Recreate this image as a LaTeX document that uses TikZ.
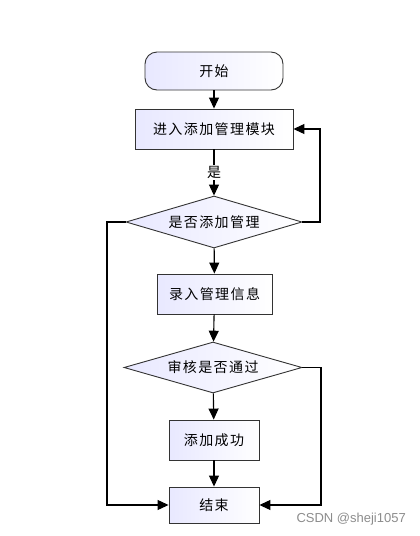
\documentclass[tikz,border=0pt]{standalone}
\usepackage{fontspec}
\newfontfamily\cjk[LetterSpace=10]{Noto Sans CJK SC}
\usetikzlibrary{shapes.geometric,arrows.meta}
\begin{document}
\begin{tikzpicture}[x=1pt,y=-1pt,
  txt/.style={font=\cjk\fontsize{14}{16}\selectfont},
  base/.style={txt,draw=black!80,line width=0.9pt,left color=blue!9,right color=white,inner sep=0pt},
  proc/.style={base,rectangle,minimum height=40pt},
  term/.style={base,rectangle,rounded corners=12pt,minimum width=138pt,minimum height=38pt},
  dec/.style={base,diamond,aspect=3.4},
  arr/.style={line width=1.1pt,-{Triangle[width=10pt,length=11pt]}},
  ln/.style={line width=1pt}]
\useasboundingbox (0,0) rectangle (420,536);
\node[term] (start) at (214,71) {开始};
\node[proc,minimum width=158pt] (enter) at (214,129) {进入添加管理模块};
\node[dec,minimum width=176pt,minimum height=52pt] (d1) at (214,222) {是否添加管理};
\node[proc,minimum width=115pt] (input) at (214.5,294) {录入管理信息};
\node[dec,minimum width=178pt,minimum height=51pt] (d2) at (213,367.5) {审核是否通过};
\node[proc,minimum width=90pt] (ok) at (214,440) {添加成功};
\node[proc,minimum width=90pt,minimum height=36pt] (end) at (214,505) {结束};
\coordinate (l1) at (107,222);
\coordinate (l2) at (107,505);
\coordinate (r1) at (320,222);
\coordinate (r2) at (320,129);
\coordinate (s1) at (321,367.5);
\coordinate (s2) at (321,505);
\draw[arr] (start) -- (enter);
\draw[arr] (enter) -- node[txt,fill=white,inner sep=1pt]{是} (d1);
\draw[arr] (d1) -- (input);
\draw[arr] (input) -- (d2);
\draw[arr] (d2) -- (ok);
\draw[arr] (ok) -- (end);
\draw[arr] (d1.west) -- (l1) -- (l2) -- (end.west);
\draw[arr] (d1.east) -- (r1) -- (r2) -- (enter.east);
\draw[arr] (d2.east) -- (s1) -- (s2) -- (end.east);
\node[text=black!45,font=\fontspec{Liberation Sans}\fontsize{13}{15}\selectfont,anchor=east,inner sep=0pt] (wm) at (406,519) {CSDN @sheji1057};
\end{tikzpicture}
\end{document}
